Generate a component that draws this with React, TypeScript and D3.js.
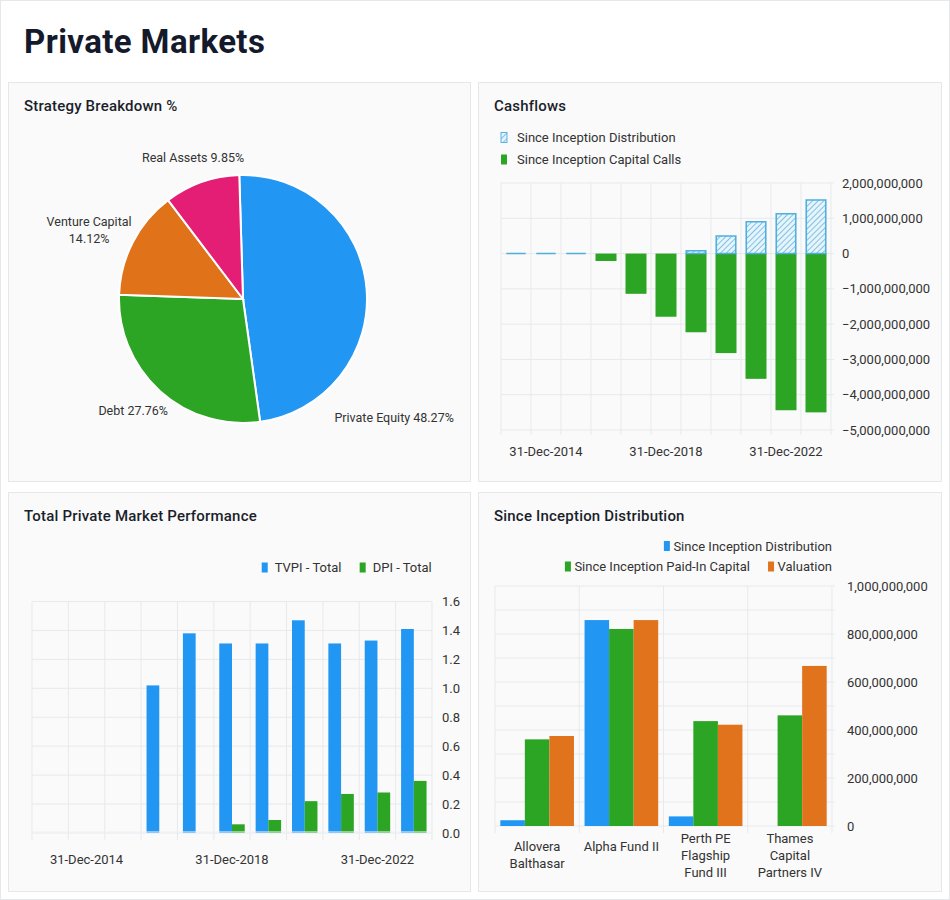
import React from 'react';
import * as d3 from 'd3';

const FONT = 'Roboto, "Noto Sans", sans-serif';
const INK = '#333333';
const GRID = '#e7e9ec';

// Strategy breakdown
const strategies = ['Private Equity', 'Debt', 'Venture Capital', 'Real Assets'];
const strategyShare = [48.27, 27.76, 14.12, 9.85];
const strategyColors = ['#2196f3', '#2ca424', '#e0731a', '#e41e74'];

// Cashflows, one bar per year end
const periods = [
  '31-Dec-2013', '31-Dec-2014', '31-Dec-2015', '31-Dec-2016', '31-Dec-2017', '31-Dec-2018',
  '31-Dec-2019', '31-Dec-2020', '31-Dec-2021', '31-Dec-2022', '31-Dec-2023',
];
const periodTicks = ['31-Dec-2014', '31-Dec-2018', '31-Dec-2022'];
const siDistribution = [0, 0, 0, null, null, null, 80e6, 500e6, 900e6, 1130e6, 1520e6];
const siCapitalCalls = [0, 0, 0, -210e6, -1140e6, -1790e6, -2230e6, -2820e6, -3550e6, -4440e6, -4500e6];
const cashTicks = [2e9, 1e9, 0, -1e9, -2e9, -3e9, -4e9, -5e9];

// Performance multiples
const tvpiTotal = [null, null, null, 1.02, 1.38, 1.31, 1.31, 1.47, 1.31, 1.33, 1.41];
const dpiTotal = [null, null, null, 0, 0, 0.06, 0.09, 0.22, 0.27, 0.28, 0.36];
const perfTicks = [0, 0.2, 0.4, 0.6, 0.8, 1.0, 1.2, 1.4, 1.6];

// Per-fund since inception figures
const funds = ['Allovera Balthasar', 'Alpha Fund II', 'Perth PE Flagship Fund III', 'Thames Capital Partners IV'];
const fundLines = [['Allovera', 'Balthasar'], ['Alpha Fund II'], ['Perth PE', 'Flagship', 'Fund III'], ['Thames', 'Capital', 'Partners IV']];
const fundDistribution = [24e6, 858e6, 40e6, 0];
const fundPaidIn = [361e6, 821e6, 437e6, 461e6];
const fundValuation = [375e6, 858e6, 422e6, 667e6];
const fundTicks = [0, 2e8, 4e8, 6e8, 8e8, 1e9];
const fundGrid = d3.range(0, 1e9 + 1, 1e8);

const BLUE = '#2196f3';
const GREEN = '#2ca424';
const ORANGE = '#e0731c';

const ctx = document.createElement('canvas').getContext('2d');
function textWidth(s: string, size: number, weight = 400) {
  if (!ctx) return s.length * size * 0.55;
  ctx.font = `${weight} ${size}px ${FONT}`;
  return ctx.measureText(s).width;
}

function Panel({ x, y, w, h, title }: { x: number; y: number; w: number; h: number; title: string }) {
  return (
    <g>
      <rect x={x + 0.5} y={y + 0.5} width={w} height={h} fill="#fafafa" stroke="#e6e7e9" />
      <text x={x + 16} y={y + 29} fontSize={15} letterSpacing={0.2} fontWeight={500} fill="#1b1f2b">{title}</text>
    </g>
  );
}

function StrategyPie() {
  const cx = 243, cy = 299, r = 124, labelR = 150;
  const left = 24, right = 454;
  const rot = -0.03;
  const arcs = d3.pie<number>().sort(null).startAngle(rot).endAngle(rot + 2 * Math.PI)(strategyShare);
  const arc = d3.arc<d3.PieArcDatum<number>>().innerRadius(0).outerRadius(r);

  const labels = arcs.map((a, i) => {
    const pct = `${strategyShare[i].toFixed(2)}%`;
    let lines = [`${strategies[i]} ${pct}`];
    const mid = (a.startAngle + a.endAngle) / 2;
    let t = mid;
    const lean = (ls: string[]) => {
      const w = Math.max(...ls.map((l) => textWidth(l, 12.5)));
      const s = Math.sin(t);
      return { w, x: cx + labelR * s + Math.sign(s) * Math.max(0, Math.abs(s) - 0.4) * w / 2 };
    };
    let { w, x } = lean(lines);
    if (x - w / 2 < left) {
      lines = [strategies[i], pct];
      ({ w, x } = lean(lines));
    }
    if (x + w / 2 > right) {
      // slide down the ring until the text fits inside the card
      while (cx + labelR * Math.sin(t) + w > right) t += 0.01;
      x = cx + labelR * Math.sin(t) + w / 2;
    }
    const y = cy - labelR * Math.cos(t);
    return { lines, x, y };
  });

  return (
    <g>
      {arcs.map((a, i) => (
        <path key={i} d={arc(a) || ''} transform={`translate(${cx},${cy})`} fill={strategyColors[i]} stroke="#fff" strokeWidth={2} />
      ))}
      {labels.map((l, i) => (
        <text key={i} x={l.x} y={l.y} textAnchor="middle" fontSize={12.5} fill={INK}>
          {l.lines.map((s, j) => (
            <tspan key={j} x={l.x} y={l.y + (j - (l.lines.length - 1) / 2) * 17} dominantBaseline="central">{s}</tspan>
          ))}
        </text>
      ))}
    </g>
  );
}

function Cashflows() {
  const x0 = 501, x1 = 831, top = 183, bottom = 430;
  const x = d3.scaleBand().domain(periods).range([x0, x1]);
  const y = d3.scaleLinear().domain([-5e9, 2e9]).range([bottom, top]);
  const bw = x.bandwidth() * 0.7;
  const edges = [...periods.map((p) => x(p) as number), x1];

  return (
    <g>
      <defs>
        <pattern id="hatch" patternUnits="userSpaceOnUse" width={4} height={4} patternTransform="rotate(45)">
          <rect width={4} height={4} fill="#e6f4fc" />
          <line x1={0} y1={0} x2={0} y2={4} stroke="#3f9fd3" strokeWidth={1.2} />
        </pattern>
      </defs>
      {[
        { label: 'Since Inception Distribution', fill: 'url(#hatch)', stroke: '#5ab4e0' },
        { label: 'Since Inception Capital Calls', fill: GREEN, stroke: 'none' },
      ].map((d, i) => (
        <g key={i}>
          <rect x={501} y={132.5 + i * 22} width={6} height={10} fill={d.fill} stroke={d.stroke} />
          <text x={517} y={137.5 + i * 22} fontSize={13} fill={INK} dominantBaseline="central">{d.label}</text>
        </g>
      ))}
      {cashTicks.map((t) => (
        <g key={t}>
          <line x1={x0} x2={x1 + 3} y1={y(t)} y2={y(t)} stroke={GRID} />
          <text x={842} y={y(t)} fontSize={13} fill={INK} dominantBaseline="central">{d3.format(',')(t)}</text>
        </g>
      ))}
      {edges.map((e, i) => (
        <line key={i} x1={e} x2={e} y1={top} y2={bottom + 5} stroke={GRID} />
      ))}
      {periods.map((p, i) => {
        const c = siCapitalCalls[i];
        if (c == null || c === 0) return null;
        return <rect key={p} x={(x(p) as number) + (x.bandwidth() - bw) / 2} y={y(0)} width={bw} height={y(c) - y(0)} fill={GREEN} />;
      })}
      {periods.map((p, i) => {
        const d = siDistribution[i];
        if (d == null) return null;
        // path keeps the outline visible for zero values
        const bx = (x(p) as number) + (x.bandwidth() - bw) / 2 + 0.75;
        const w = bw - 1.5;
        const h = y(0) - y(d);
        return (
          <path key={p} d={`M${bx},${y(d)}h${w}v${h}h${-w}Z`} fill="url(#hatch)" stroke="#4fb0de" strokeWidth={1.6} />
        );
      })}
      {periodTicks.map((p) => (
        <text key={p} x={(x(p) as number) + x.bandwidth() / 2} y={bottom + 21} textAnchor="middle" fontSize={13} fill={INK} dominantBaseline="central">{p}</text>
      ))}
    </g>
  );
}

function Performance() {
  const x0 = 32, x1 = 432, top = 601.5, bottom = 833;
  const x = d3.scaleBand().domain(periods).range([x0, x1]);
  const inner = d3.scaleBand().domain(['tvpi', 'dpi']).range([x.bandwidth() * 0.15, x.bandwidth() * 0.85]);
  const y = d3.scaleLinear().domain([0, 1.6]).range([bottom, top]);
  const edges = [...periods.map((p) => x(p) as number), x1];

  const legend = [
    { label: 'TVPI - Total', color: BLUE },
    { label: 'DPI - Total', color: GREEN },
  ];
  let lx = 432;
  const placed = legend.slice().reverse().map((d) => {
    const w = textWidth(d.label, 13);
    lx -= w;
    const item = { ...d, tx: lx, mx: lx - 13 };
    lx -= 13 + 18;
    return item;
  });

  return (
    <g>
      {placed.map((d) => (
        <g key={d.label}>
          <rect x={d.mx} y={562.5} width={6} height={10} fill={d.color} />
          <text x={d.tx} y={567.5} fontSize={13} fill={INK} dominantBaseline="central">{d.label}</text>
        </g>
      ))}
      {perfTicks.map((t) => (
        <g key={t}>
          <line x1={x0} x2={x1} y1={y(t)} y2={y(t)} stroke={GRID} />
          <text x={442} y={y(t)} fontSize={13} fill={INK} dominantBaseline="central">{t.toFixed(1)}</text>
        </g>
      ))}
      {edges.map((e, i) => (
        <line key={i} x1={e} x2={e} y1={top} y2={bottom + 7} stroke={GRID} />
      ))}
      {periods.map((p, i) => {
        const bx = x(p) as number;
        const tv = tvpiTotal[i];
        const dp = dpiTotal[i];
        return (
          <g key={p}>
            {tv ? <rect x={bx + (inner('tvpi') as number)} y={y(tv)} width={inner.bandwidth()} height={y(0) - y(tv)} fill={BLUE} /> : null}
            {dp ? <rect x={bx + (inner('dpi') as number)} y={y(dp)} width={inner.bandwidth()} height={y(0) - y(dp)} fill={GREEN} /> : null}
          </g>
        );
      })}
      <line x1={x0} x2={x1} y1={y(0) - 1} y2={y(0) - 1} stroke="#eef1f5" strokeOpacity={0.55} strokeWidth={2} />
      {periodTicks.map((p) => (
        <text key={p} x={(x(p) as number) + x.bandwidth() / 2} y={bottom + 26} textAnchor="middle" fontSize={13} fill={INK} dominantBaseline="central">{p}</text>
      ))}
    </g>
  );
}

function FundDistribution() {
  const x0 = 495, x1 = 832, top = 586, bottom = 826;
  const x = d3.scaleBand().domain(funds).range([x0, x1]);
  const keys = ['dist', 'paid', 'val'];
  const inner = d3.scaleBand().domain(keys).range([x.bandwidth() * 0.063, x.bandwidth() * 0.937]);
  const y = d3.scaleLinear().domain([0, 1e9]).range([bottom, top]);
  const edges = [...funds.map((f) => x(f) as number), x1];
  const series = [fundDistribution, fundPaidIn, fundValuation];
  const colors = [BLUE, GREEN, ORANGE];

  const rows = [
    [{ label: 'Since Inception Distribution', color: BLUE }],
    [{ label: 'Since Inception Paid-In Capital', color: GREEN }, { label: 'Valuation', color: ORANGE }],
  ];

  return (
    <g>
      {rows.map((row, ri) => {
        let lx = 832;
        const placed = row.slice().reverse().map((d) => {
          const w = textWidth(d.label, 13);
          lx -= w;
          const item = { ...d, tx: lx, mx: lx - 9.5 };
          lx -= 9.5 + 18;
          return item;
        });
        const cy = 546 + ri * 20.5;
        return placed.map((d) => (
          <g key={d.label}>
            <rect x={d.mx} y={cy - 5} width={6} height={10} fill={d.color} />
            <text x={d.tx} y={cy} fontSize={13} fill={INK} dominantBaseline="central">{d.label}</text>
          </g>
        ));
      })}
      {fundGrid.map((t) => (
        <line key={t} x1={x0} x2={x1 + 3} y1={y(t)} y2={y(t)} stroke={GRID} />
      ))}
      {fundTicks.map((t) => (
        <text key={t} x={847} y={y(t)} fontSize={13} fill={INK} dominantBaseline="central">{d3.format(',')(t)}</text>
      ))}
      {edges.map((e, i) => (
        <line key={i} x1={e} x2={e} y1={top} y2={bottom + 7} stroke={GRID} />
      ))}
      {funds.map((f, i) => (
        <g key={f}>
          {series.map((s, k) => (s[i] > 0 ? (
            <rect key={k} x={(x(f) as number) + (inner(keys[k]) as number)} y={y(s[i])} width={inner.bandwidth()} height={y(0) - y(s[i])} fill={colors[k]} />
          ) : null))}
        </g>
      ))}
      {funds.map((f, i) => {
        const lines = fundLines[i];
        const cx = (x(f) as number) + x.bandwidth() / 2;
        const y0 = lines.length > 2 ? bottom + 12 : bottom + 20;
        return (
          <text key={f} textAnchor="middle" fontSize={13} fill={INK}>
            {lines.map((l, j) => (
              <tspan key={j} x={cx} y={y0 + j * 17} dominantBaseline="central">{l}</tspan>
            ))}
          </text>
        );
      })}
    </g>
  );
}

export default function App() {
  return (
    <svg width={950} height={900} style={{ position: 'absolute', left: 0, top: 0, fontFamily: FONT }}>
      <rect x={0.5} y={0.5} width={949} height={899} fill="#fff" stroke="#e5e7eb" />
      <text x={24} y={53} fontSize={33} letterSpacing={0.4} fontWeight={700} fill="#141a2b">Private Markets</text>
      <Panel x={8} y={82} w={462} h={399} title="Strategy Breakdown %" />
      <Panel x={478} y={82} w={463} h={399} title="Cashflows" />
      <Panel x={8} y={492} w={462} h={399} title="Total Private Market Performance" />
      <Panel x={478} y={492} w={463} h={399} title="Since Inception Distribution" />
      <StrategyPie />
      <Cashflows />
      <Performance />
      <FundDistribution />
    </svg>
  );
}
